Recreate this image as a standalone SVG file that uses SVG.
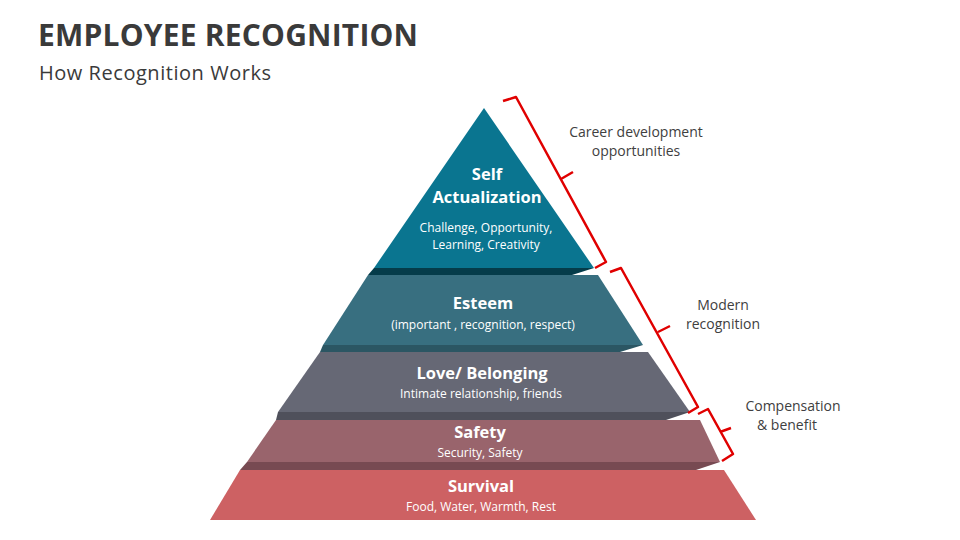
<svg xmlns="http://www.w3.org/2000/svg" width="960" height="540" viewBox="0 0 960 540">
<style>
text{font-family:"Open Sans","Liberation Sans",sans-serif}
.h{font-weight:bold;font-size:16.5px;fill:#fff;text-anchor:middle}
.s{font-size:12px;fill:#fff;text-anchor:middle}
.l{font-size:14px;fill:#404040;text-anchor:middle}
.br{fill:none;stroke:#e00000;stroke-width:2.5;stroke-linejoin:round}
</style>
<rect width="960" height="540" fill="#fff"/>
<text x="38" y="46" font-size="30" font-weight="bold" fill="#3a3a3a" textLength="380">EMPLOYEE RECOGNITION</text>
<text x="39" y="80" font-size="20" fill="#3a3a3a" textLength="232">How Recognition Works</text>
<g id="bands">
<polygon points="374,268 594,268 572,275 368,275" fill="#053c4a"/>
<polygon points="323,345 643,345 620,352 320,352" fill="#2b5663"/>
<polygon points="278,412 690,412 666,420 276,420" fill="#4f505b"/>
<polygon points="247,462 720,462 696,470 240,470" fill="#774a52"/>
</g>
<g id="self"><polygon points="484,108 594,268 374,268" fill="#0a7590"/>
<text class="h" x="487" y="180">Self</text><text class="h" x="487" y="203">Actualization</text>
<text class="s" x="486" y="232">Challenge, Opportunity,</text><text class="s" x="486" y="249">Learning, Creativity</text></g>
<g id="esteem"><polygon points="368,275 598,275 643,345 323,345" fill="#386f80"/>
<text class="h" x="483" y="309">Esteem</text><text class="s" x="483" y="329">(important , recognition, respect)</text></g>
<g id="love"><polygon points="320,352 648,352 690,412 278,412" fill="#666875"/>
<text class="h" x="482" y="379">Love/ Belonging</text><text class="s" x="481" y="398">Intimate relationship, friends</text></g>
<g id="safety"><polygon points="276,420 700,420 720,462 247,462" fill="#99646c"/>
<text class="h" x="480" y="438">Safety</text><text class="s" x="480" y="457">Security, Safety</text></g>
<g id="survival"><polygon points="240,470 724,470 756,520 210,520" fill="#cd6163"/>
<text class="h" x="481" y="492">Survival</text><text class="s" x="481" y="511">Food, Water, Warmth, Rest</text></g>
<g id="connectors">
<path class="br" d="M503,101 L516,97 L606,262 L595,268 M561,179 L573,172"/>
<path class="br" d="M610,272 L621,268 L698,407 L688,413 M658,332 L670,326"/>
<path class="br" d="M698,414 L708,409 L733,454 L722,461 M720,432 L731,428"/>
</g>
<g id="labels">
<text class="l" x="636" y="137">Career development</text><text class="l" x="636" y="156">opportunities</text>
<text class="l" x="723" y="310">Modern</text><text class="l" x="723" y="329">recognition</text>
<text class="l" x="793" y="411">Compensation</text><text class="l" x="787" y="430">&amp; benefit</text>
</g>
</svg>
